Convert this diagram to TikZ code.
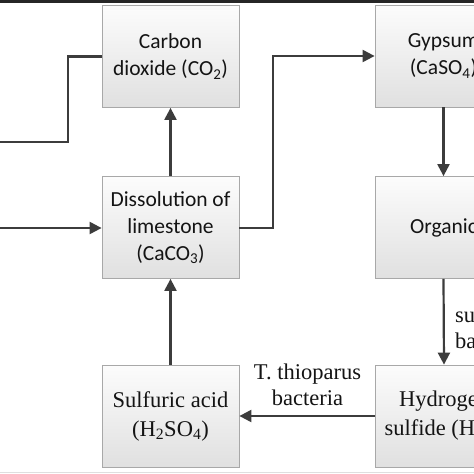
\documentclass[tikz,border=0pt]{standalone}
\usepackage{fontspec}
\newfontfamily\calfont{Carlito}
\newfontfamily\timfont{Liberation Serif}
\usetikzlibrary{arrows.meta}
\definecolor{linec}{HTML}{3C3C3C}
\definecolor{boxline}{HTML}{A8A8A8}
\definecolor{boxtop}{HTML}{FCFCFC}
\definecolor{boxbot}{HTML}{E0E0E0}
\definecolor{txt}{HTML}{141414}
\begin{document}
\begin{tikzpicture}[x=1pt,y=-1pt,
  boxstyle/.style={draw=boxline, line width=0.8pt, top color=boxtop, bottom color=boxbot,
    minimum width=137pt, minimum height=102pt, inner sep=0pt, align=center, text=txt},
  sansbox/.style={boxstyle, font=\calfont\fontsize{21.5}{27}\selectfont},
  serifbox/.style={boxstyle, font=\timfont\fontsize{22.5}{29}\selectfont},
  conn/.style={draw=linec, line width=2.2pt},
  arr/.style={conn, -{Triangle[length=12pt,width=12pt]}},
  lbl/.style={text=txt, font=\timfont\fontsize{22.5}{26}\selectfont, inner sep=0pt}
]
\useasboundingbox (0,0) rectangle (474,474);
\clip (0,0) rectangle (474,474);
\fill[white] (0,0) rectangle (474,474);
\fill[black!85] (0,0) rectangle (474,2.5);
\draw[gray!25, line width=0.8pt] (0,472.5) -- (474,472.5);

\node[sansbox] (co2) at (170.5,56.5) {Carbon\\dioxide (CO\textsubscript{2})};
\node[sansbox] (diss) at (170.5,227.5) {Dissolution of\\limestone\\(CaCO\textsubscript{3})};
\node[serifbox] (acid) at (170.5,416) {Sulfuric acid\\(H\textsubscript{2}SO\textsubscript{4})};
\node[sansbox] (gyp) at (443.5,56) {Gypsum\\(CaSO\textsubscript{4})};
\node[sansbox] (org) at (443.5,227.5) {Organic};
\node[serifbox] (hs) at (444,416) {Hydrogen\\sulfide (H\textsubscript{2}S)};

\coordinate (in1) at (-2,142);
\coordinate (in2) at (-2,228);

\draw[conn] (in1) -- (68,142) |- (co2.west);
\draw[arr] (in2) -- (diss.west |- in2);
\draw[arr] (diss.north) -- (co2.south);
\draw[arr] (diss.east |- 0,228) -- (273,228) |- (gyp.west);
\draw[arr] (gyp.south) -- (org.north);
\draw[arr] (org.south) -- (hs.north);
\draw[arr] (hs.west) -- (acid.east);
\draw[arr] (acid.north) -- (diss.south);

\node[lbl, align=center] (tlab) at (307.5,385) {T. thioparus\\bacteria};
\node[lbl, align=left, anchor=west] (slab) at (455,328) {sulfate-reducing\\bacteria};
\end{tikzpicture}
\end{document}
